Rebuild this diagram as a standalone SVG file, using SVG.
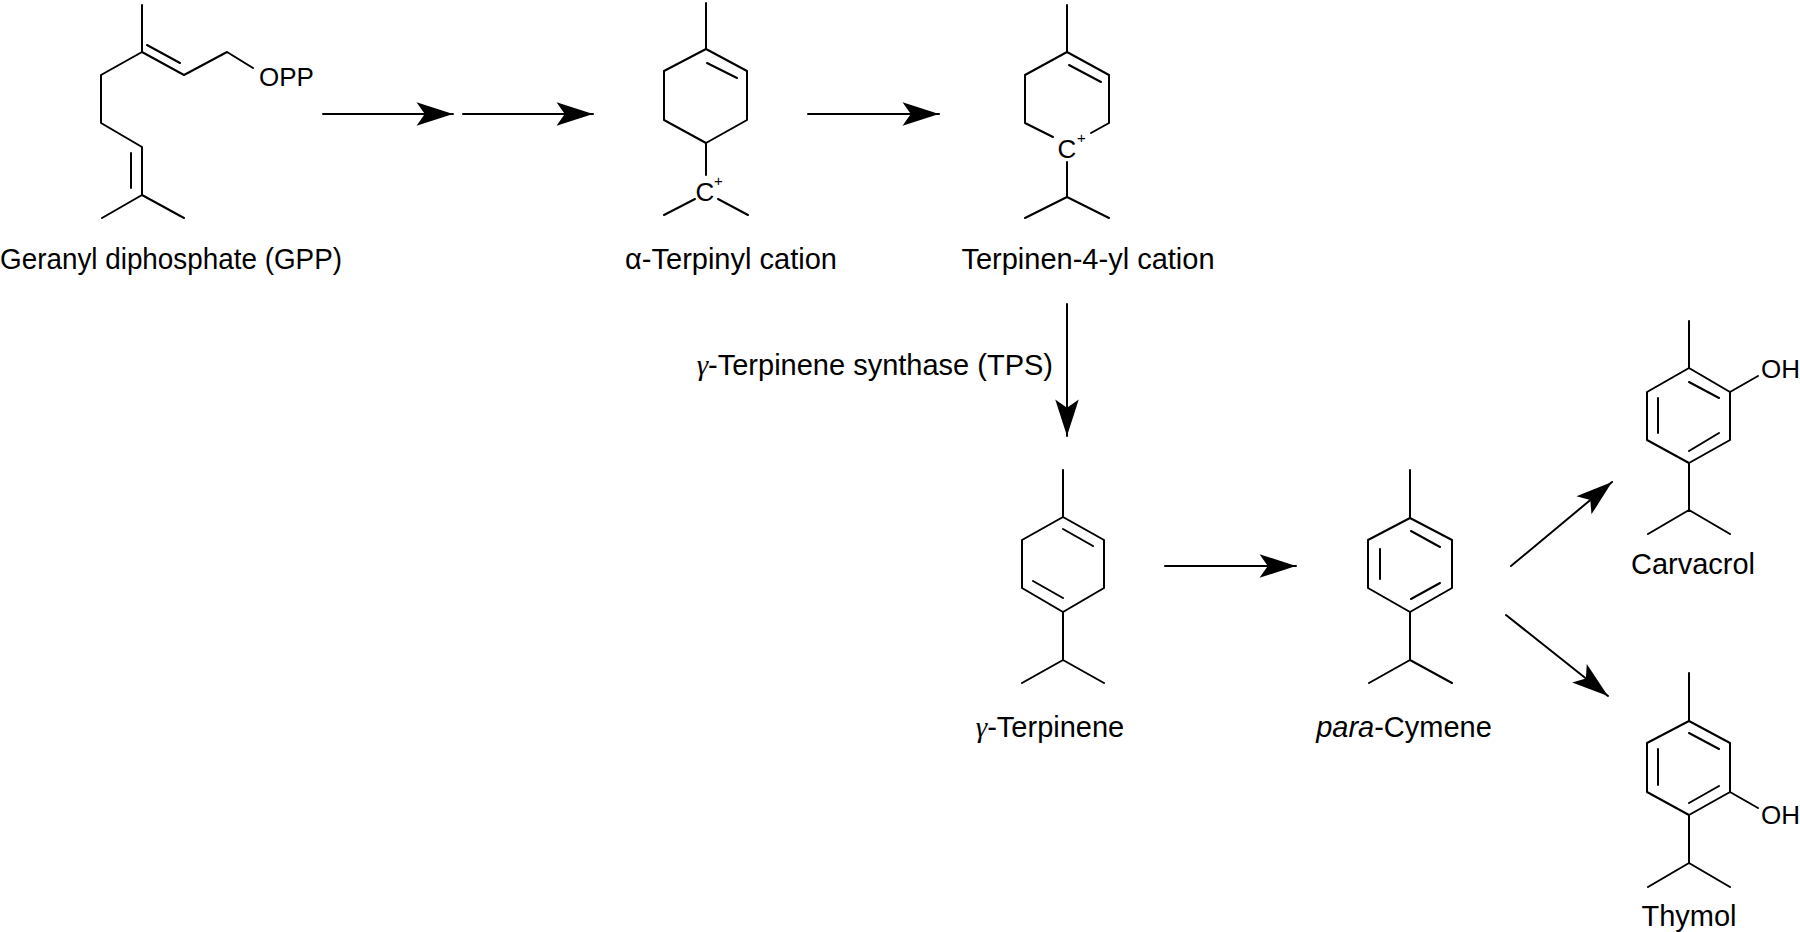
<svg xmlns="http://www.w3.org/2000/svg" width="1800" height="932" viewBox="0 0 1800 932">
<style>
.b{stroke:#000;stroke-width:2;fill:none;stroke-linecap:round;stroke-linejoin:round}
text{font-family:"Liberation Sans",Arial,sans-serif;font-size:29px;fill:#000}
.s{font-size:26px}
.c{text-anchor:middle}
.g{font-family:"Liberation Serif","Times New Roman",serif;font-style:italic}
</style>
<defs>
<marker id="ah" markerUnits="userSpaceOnUse" markerWidth="40" markerHeight="30" viewBox="-32 -12 34 24" refX="0" refY="0" orient="auto">
<path d="M0,0 L-31,-10 L-24,0 L-31,10 Z" fill="#000"/>
</marker>
</defs>
<rect width="1800" height="932" fill="#fff"/>
<g id="gpp">
<path class="b" d="M142,5 L142,52 L184,75 L227,52 L253,68 M142,52 L101,75 L101,123 L142,147 L142,195 L102,218 M142,195 L184,218 M147,45 L180,63 M131,153 L131,188"/>
<text class="s" x="259" y="86">OPP</text>
<text x="0" y="269" textLength="342" lengthAdjust="spacingAndGlyphs">Geranyl diphosphate (GPP)</text>
</g>
<g id="aterpinyl">
<path class="b" d="M706,49 L747,71 L747,120 L706,143 L664,120 L664,71 Z M706,3 L706,49 M707,63 L737,78 M706,143 L706,175 M664,215 L695,199 M718,199 L748,215"/>
<text class="c s" x="705" y="201">C</text>
<text x="714" y="186" style="font-size:15px">+</text>
<text class="c" x="731" y="269">α-Terpinyl cation</text>
</g>
<g id="terpinen4yl">
<path class="b" d="M1067,5 L1067,52 L1109,75 L1109,123 L1091,133 M1053,137 L1025,123 L1025,75 L1067,52 M1069,65 L1101,82 M1067,162 L1067,197 L1025,218 M1067,197 L1109,218"/>
<text class="c s" x="1067" y="158">C</text>
<text x="1077" y="143" style="font-size:15px">+</text>
<text class="c" x="1088" y="269">Terpinen-4-yl cation</text>
</g>
<g id="gterpinene">
<path class="b" d="M1063,517 L1104,540 L1104,588 L1063,612 L1022,588 L1022,540 Z M1063,470 L1063,517 M1063,529 L1093,546 M1033,581 L1063,598 M1063,612 L1063,660 L1022,683 M1063,660 L1104,683"/>
<text class="c" x="1050" y="737"><tspan class="g">γ</tspan>-Terpinene</text>
</g>
<g id="pcymene">
<path class="b" d="M1410,518 L1452,540 L1452,588 L1410,612 L1368,588 L1368,540 Z M1410,470 L1410,518 M1411,531 L1440,547 M1380,549 L1380,579 M1411,599 L1440,583 M1410,612 L1410,660 L1369,683 M1410,660 L1452,683"/>
<text class="c" x="1404" y="737"><tspan font-style="italic">para</tspan>-Cymene</text>
</g>
<g id="carvacrol">
<path class="b" d="M1689,368 L1730,392 L1730,440 L1689,463 L1647,440 L1647,392 Z M1689,321 L1689,368 M1689,382 L1719,398 M1658,398 L1658,433 M1689,451 L1719,433 M1730,392 L1758,376 M1689,463 L1689,510 L1648,534 M1689,510 L1730,534"/>
<text class="s" x="1761" y="378">OH</text>
<text class="c" x="1693" y="574">Carvacrol</text>
</g>
<g id="thymol">
<path class="b" d="M1689,721 L1730,743 L1730,792 L1689,815 L1647,792 L1647,743 Z M1689,673 L1689,721 M1689,733 L1719,749 M1658,749 L1658,785 M1689,803 L1719,786 M1730,792 L1758,808 M1689,815 L1689,863 L1648,887 M1689,863 L1730,887"/>
<text class="s" x="1761" y="824">OH</text>
<text class="c" x="1689" y="926">Thymol</text>
</g>
<g id="connectors">
<path class="b" d="M323,114 L453,114" marker-end="url(#ah)"/>
<path class="b" d="M463,114 L593,114" marker-end="url(#ah)"/>
<path class="b" d="M808,114 L939,114" marker-end="url(#ah)"/>
<path class="b" d="M1067,304 L1067,436" marker-end="url(#ah)"/>
<path class="b" d="M1165,566 L1296,566" marker-end="url(#ah)"/>
<path class="b" d="M1511,566 L1612,482" marker-end="url(#ah)"/>
<path class="b" d="M1506,615 L1608,696" marker-end="url(#ah)"/>
<text x="1053" y="375" text-anchor="end"><tspan class="g">γ</tspan>-Terpinene synthase (TPS)</text>
</g>
</svg>
